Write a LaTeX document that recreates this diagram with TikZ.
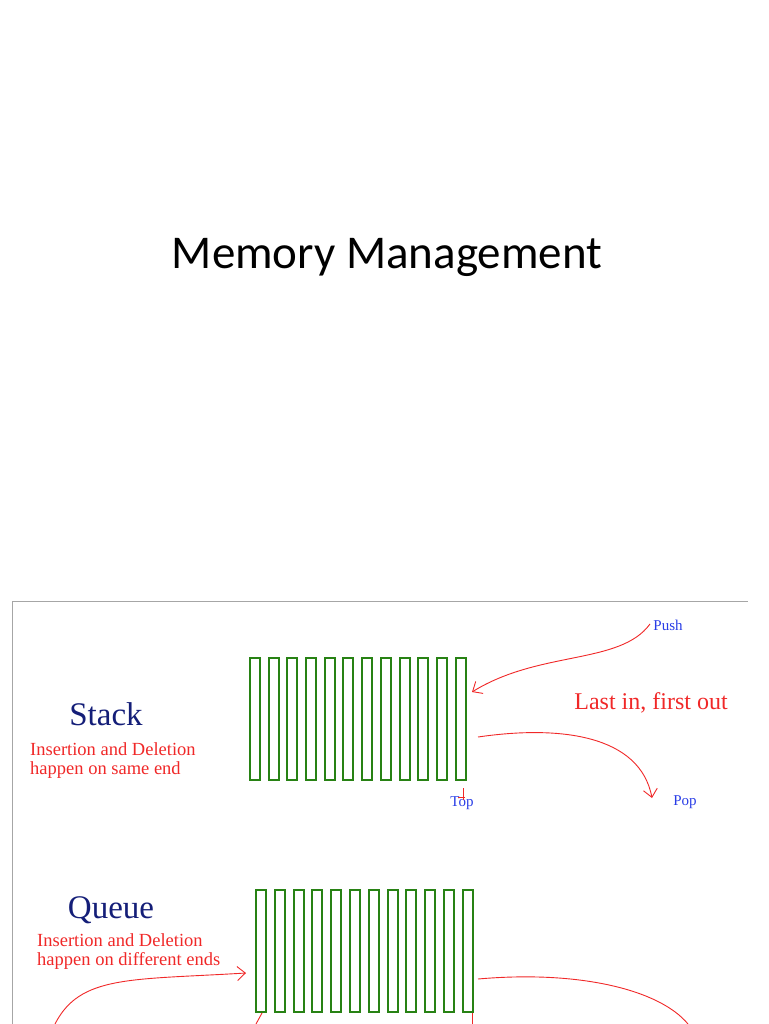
\documentclass[tikz,border=0pt]{standalone}
\usepackage{fontspec}
\setmainfont{Liberation Serif}
\newfontfamily\titlefont{Carlito}
\usetikzlibrary{arrows.meta}
\definecolor{bargreen}{RGB}{40,130,20}
\definecolor{navy}{RGB}{20,30,120}
\definecolor{pen}{RGB}{240,40,40}
\definecolor{blu}{RGB}{40,60,230}
\tikzset{
  bar/.style={draw=bargreen,line width=1.4pt},
  redtxt/.style={text=pen,font=\fontsize{18.5}{19}\selectfont,align=left,inner sep=0pt},
  bluetxt/.style={text=blu,font=\fontsize{15}{16}\selectfont,inner sep=0pt},
  headtxt/.style={text=navy,font=\fontsize{33}{34}\selectfont,inner sep=0pt},
  ink/.style={draw=pen,line width=0.9pt},
  inkarrow/.style={ink,-{Straight Barb[length=8pt,width=14pt]}}
}
\begin{document}
\begin{tikzpicture}[x=1pt,y=-1pt]
\useasboundingbox (0,0) rectangle (768,1024);
\node (title) at (387,257) {\titlefont\fontsize{47}{50}\selectfont Memory Management};
% frame
\draw[gray!70,line width=0.8pt] (12,1024) -- (12,601) -- (748,601);
% stack bars
\foreach \i in {0,...,11}{
  \draw[bar] ({round(250+\i*18.7)},658) rectangle ({round(260+\i*18.7)},780);
}
\foreach \i in {0,...,11}{
  \draw[bar] ({round(256+\i*18.8)},890) rectangle ({round(266+\i*18.8)},1012);
}
\coordinate (stackend) at (472,692);
\node[headtxt] (stack) at (106,714) {Stack};
\node[redtxt,anchor=west] (sdesc) at (30,761) {Insertion and Deletion\\happen on same end};
\node[text=pen,font=\fontsize{24}{26}\selectfont,inner sep=0pt] (lifo) at (651,703) {Last in, first out};
\node[bluetxt] (push) at (668,625) {Push};
\node[bluetxt] (pop) at (685,802) {Pop};
\node[bluetxt] (top) at (462,803) {Top};
\coordinate (pushstart) at (650,624);
\coordinate (popstart) at (478,737);
\coordinate (popend) at (652,798);
\draw[inkarrow] (pushstart) .. controls (620,665) and (540,650) .. (stackend);
\draw[inkarrow] (popstart) .. controls (560,725) and (640,735) .. (popend);
\draw[ink] (465,797) -- (458,797) (463,788) -- (463,800);
% queue
\node[headtxt] (queue) at (111,910) {Queue};
\node[redtxt,anchor=west] (qdesc) at (37,952) {Insertion and Deletion\\happen on different ends};
\coordinate (qin) at (246,973);
\coordinate (qinstart) at (55,1024);
\coordinate (qoutstart) at (478,979);
\coordinate (qoutend) at (688,1024);
\draw[inkarrow] (qinstart) .. controls (80,975) and (130,980) .. (qin);
\draw[ink] (qoutstart) .. controls (580,970) and (660,990) .. (qoutend);
\draw[ink] (262,1013) -- (256,1024);
\draw[ink] (472,1013) -- (472,1024);
\end{tikzpicture}
\end{document}
